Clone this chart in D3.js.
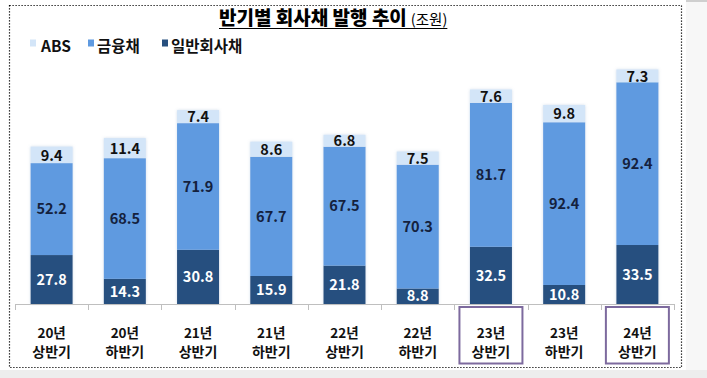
<!DOCTYPE html>
<html>
<head>
<meta charset="utf-8">
<script src="https://cdn.jsdelivr.net/npm/d3@7"></script>
<style>
  html, body { margin: 0; padding: 0; background: #ffffff; }
  svg { display: block; }
  text { font-family: "Noto Sans CJK KR", "Noto Sans", sans-serif; }
</style>
</head>
<body>
<svg id="chart" width="707" height="378"></svg>
<script>
// ---- data ----
const years = ["20년", "20년", "21년", "21년", "22년", "22년", "23년", "23년", "24년"];
const halves = ["상반기", "하반기", "상반기", "하반기", "상반기", "하반기", "상반기", "하반기", "상반기"];
const general = [27.8, 14.3, 30.8, 15.9, 21.8, 8.8, 32.5, 10.8, 33.5];   // 일반회사채
const financial = [52.2, 68.5, 71.9, 67.7, 67.5, 70.3, 81.7, 92.4, 92.4]; // 금융채
const abs = [9.4, 11.4, 7.4, 8.6, 6.8, 7.5, 7.6, 9.8, 7.3];              // ABS
const highlighted = [6, 8];
const seriesNames = ["ABS", "금융채", "일반회사채"];
const titleMain = "반기별 회사채 발행 추이";
const titleUnit = "(조원)";

// ---- layout ----
const svg = d3.select("#chart");
const W = 707, H = 378;
const colors = { abs: "#d3e5f8", fin: "#5f9ae0", gen: "#27507f" };

// background pieces outside frame
svg.append("rect").attr("x", 0).attr("y", 370).attr("width", W).attr("height", 8).attr("fill", "#ededed");
svg.append("rect").attr("x", 686).attr("y", 0).attr("width", 21).attr("height", 370).attr("fill", "#f7f7f7");
svg.append("rect").attr("x", 686).attr("y", 0).attr("width", 21).attr("height", 2).attr("fill", "#cfcfcf");

// dotted frame
svg.append("rect").attr("x", 9.5).attr("y", 5.5).attr("width", 672).attr("height", 362)
  .attr("fill", "none").attr("stroke", "#000").attr("stroke-width", 1.2).attr("stroke-dasharray", "1.2,1.8");

const idx = d3.range(years.length);
const x = d3.scaleBand().domain(idx).range([15, 674]).paddingInner(0).paddingOuter(0);
const barW = 42;
const y = d3.scaleLinear().domain([0, 140]).range([304, 304 - 140 * 1.761]);

const defs = svg.append("defs");
const f = defs.append("filter").attr("id", "sh").attr("x", "-30%").attr("y", "-10%").attr("width", "160%").attr("height", "120%");
f.append("feDropShadow").attr("dx", 0).attr("dy", 0).attr("stdDeviation", 1.6).attr("flood-color", "#7f9fc8").attr("flood-opacity", 0.35);

const stacks = idx.map(i => {
  const g0 = 0, g1 = general[i];
  const f1 = g1 + financial[i];
  const a1 = f1 + abs[i];
  return [
    { key: "gen", v0: g0, v1: g1, val: general[i], color: colors.gen, tc: "#ffffff" },
    { key: "fin", v0: g1, v1: f1, val: financial[i], color: colors.fin, tc: "#14213d" },
    { key: "abs", v0: f1, v1: a1, val: abs[i], color: colors.abs, tc: "#111111" }
  ].map(s => Object.assign(s, { i }));
});

const barsG = svg.append("g");
idx.forEach(i => {
  const g = barsG.append("g").attr("filter", "url(#sh)");
  g.selectAll("rect").data(stacks[i]).join("rect")
    .attr("x", d => x(d.i) + x.bandwidth() / 2 - barW / 2)
    .attr("width", barW)
    .attr("y", d => y(d.v1))
    .attr("height", d => y(d.v0) - y(d.v1))
    .attr("fill", d => d.color);
});
idx.forEach(i => {
  barsG.append("g").selectAll("text").data(stacks[i]).join("text")
    .attr("x", d => x(d.i) + x.bandwidth() / 2)
    .attr("y", d => (y(d.v0) + y(d.v1)) / 2 + (d.key === "abs" ? 0.5 : 0))
    .attr("dy", "0.36em")
    .attr("text-anchor", "middle")
    .attr("font-size", 14.5)
    .attr("font-weight", 700)
    .attr("fill", d => d.tc)
    .text(d => d.val.toFixed(1));
});

// axis line and ticks
const axisG = svg.append("g");
axisG.append("line").attr("x1", 15).attr("x2", 674).attr("y1", 304.5).attr("y2", 304.5)
  .attr("stroke", "#bfbfbf").attr("stroke-width", 1);
const bounds = idx.map(i => x(i)).concat([x(idx[idx.length - 1]) + x.bandwidth()]);
axisG.selectAll("line.tk").data(bounds).join("line").attr("class", "tk")
  .attr("x1", d => Math.round(d) + 0.5).attr("x2", d => Math.round(d) + 0.5)
  .attr("y1", 304).attr("y2", 310).attr("stroke", "#bfbfbf");

// category labels
const labG = svg.append("g");
idx.forEach(i => {
  const cx = x(i) + x.bandwidth() / 2;
  labG.append("text").attr("x", cx).attr("y", 333).attr("dy", "0.36em")
    .attr("text-anchor", "middle").attr("font-size", 13.5).attr("font-weight", 700).attr("fill", "#111")
    .text(years[i]);
  labG.append("text").attr("x", cx).attr("y", 352).attr("dy", "0.36em")
    .attr("text-anchor", "middle").attr("font-size", 14).attr("font-weight", 700).attr("fill", "#111")
    .text(halves[i]);
});
highlighted.forEach(i => {
  const cx = x(i) + x.bandwidth() / 2;
  labG.append("rect").attr("x", cx - 31.5).attr("y", 307).attr("width", 63).attr("height", 56.5)
    .attr("fill", "none").attr("stroke", "#7d6a9e").attr("stroke-width", 2);
});

// title
const title = svg.append("text").attr("x", 219).attr("y", 25).attr("fill", "#000");
title.append("tspan").attr("font-size", 19).attr("font-weight", 900).text(titleMain);
title.append("tspan").attr("font-size", 14.5).attr("font-weight", 400).attr("dx", 4).text(titleUnit);
const tb = title.node().getBBox();
svg.append("line").attr("x1", tb.x).attr("x2", tb.x + tb.width).attr("y1", 28.5).attr("y2", 28.5)
  .attr("stroke", "#000").attr("stroke-width", 1.2);

// legend
const legend = svg.append("g");
const legItems = [
  { name: seriesNames[0], color: colors.abs, sx: 30, tx: 41 },
  { name: seriesNames[1], color: colors.fin, sx: 88, tx: 97 },
  { name: seriesNames[2], color: colors.gen, sx: 162, tx: 171 }
];
legItems.forEach(d => {
  legend.append("rect").attr("x", d.sx).attr("y", 39.5).attr("width", 6).attr("height", 7).attr("fill", d.color);
  legend.append("text").attr("x", d.tx).attr("y", 46).attr("dy", "0.36em")
    .attr("font-size", 15.5).attr("font-weight", 700).attr("fill", "#111").text(d.name);
});
</script>
</body>
</html>
